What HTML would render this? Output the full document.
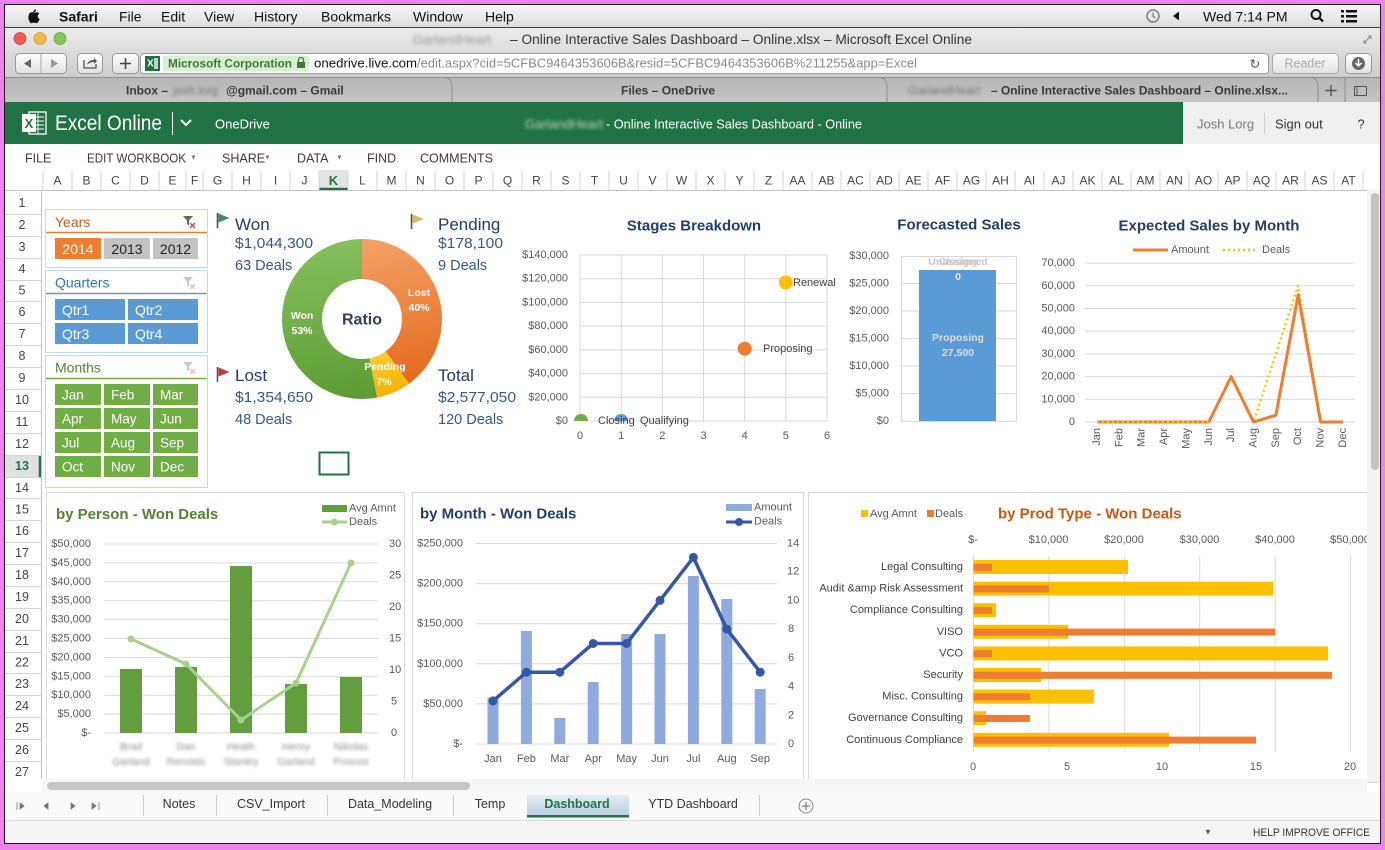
<!DOCTYPE html>
<html><head><meta charset="utf-8">
<style>
html,body{margin:0;padding:0;width:1385px;height:850px;overflow:hidden;background:#f082f0;}
svg{display:block;font-family:"Liberation Sans",Arial,sans-serif;}
</style></head><body>
<svg width="1385" height="850" viewBox="0 0 1385 850" xmlns="http://www.w3.org/2000/svg">
<defs>
<linearGradient id="gMenu" x1="0" y1="0" x2="0" y2="1"><stop offset="0" stop-color="#f8f8f8"/><stop offset="1" stop-color="#dcdcdc"/></linearGradient>
<linearGradient id="gWin" x1="0" y1="0" x2="0" y2="1"><stop offset="0" stop-color="#ebebeb"/><stop offset="1" stop-color="#cdcdcd"/></linearGradient>
<linearGradient id="gBtn" x1="0" y1="0" x2="0" y2="1"><stop offset="0" stop-color="#fdfdfd"/><stop offset="1" stop-color="#e2e2e2"/></linearGradient>
<linearGradient id="gTab" x1="0" y1="0" x2="0" y2="1"><stop offset="0" stop-color="#b6b6b6"/><stop offset="1" stop-color="#c4c4c4"/></linearGradient>
<linearGradient id="gLost" gradientUnits="userSpaceOnUse" x1="390" y1="240" x2="420" y2="385"><stop offset="0" stop-color="#f4a064"/><stop offset="1" stop-color="#e3691c"/></linearGradient>
<linearGradient id="gWon" gradientUnits="userSpaceOnUse" x1="320" y1="245" x2="340" y2="400"><stop offset="0" stop-color="#86bf5e"/><stop offset="1" stop-color="#5c9c33"/></linearGradient>
<linearGradient id="gPend" gradientUnits="userSpaceOnUse" x1="380" y1="350" x2="390" y2="398"><stop offset="0" stop-color="#ffcc33"/><stop offset="1" stop-color="#f2b200"/></linearGradient>
<linearGradient id="gDash" x1="0" y1="0" x2="0" y2="1"><stop offset="0" stop-color="#e6edf5"/><stop offset="1" stop-color="#b9cce2"/></linearGradient>
<clipPath id="stclip"><rect x="572" y="240" width="262" height="181"/></clipPath>
<clipPath id="prodclip"><rect x="808" y="492" width="559" height="290"/></clipPath>
<filter id="bl" x="-20%" y="-50%" width="140%" height="200%"><feGaussianBlur stdDeviation="1.6"/></filter>
</defs>

<!-- frame -->
<rect x="4" y="4" width="1377" height="840" fill="#1c1c1c"/>
<rect x="5" y="5" width="1375" height="838" fill="#ffffff"/>

<!-- mac menu bar -->
<rect x="5" y="5" width="1375" height="22" fill="url(#gMenu)"/>
<line x1="5" y1="27.5" x2="1380" y2="27.5" stroke="#444"/>
<path d="M33.5 11.2c.6-1.2 1.7-1.9 2.6-1.9.1 1-.4 1.9-1 2.5-.6.6-1.5 1-2.3.9.1-.6.3-1.1.7-1.5zM29.5 13.3c1-1 2.2-1.2 3-.9.7.2 1.2.5 1.800.5s1.2-.4 2-.6c1.1-.2 2.3.3 3 1.2-2.4 1.4-2 4.6.4 5.5-.5 1.4-1.3 2.8-2.3 3.7-.8.7-1.6.5-2.4.2-.8-.3-1.5-.3-2.3 0-.9.4-1.7.6-2.4-.2-1.9-2-2.7-6.1-.8-9.4z" fill="#111"/>
<g font-size="14" fill="#111" dominant-baseline="central">
<text x="59" y="16.5" font-weight="bold">Safari</text>
<text x="119" y="16.5">File</text>
<text x="161" y="16.5">Edit</text>
<text x="204" y="16.5">View</text>
<text x="254" y="16.5">History</text>
<text x="321" y="16.5">Bookmarks</text>
<text x="413" y="16.5">Window</text>
<text x="485" y="16.5">Help</text>
<text x="1203" y="16.5">Wed 7:14 PM</text>
</g>
<circle cx="1153" cy="16" r="6" fill="none" stroke="#777" stroke-width="1.4"/>
<path d="M1153 12.5v3.8l2.5 1.5" fill="none" stroke="#777" stroke-width="1.2"/>
<path d="M1173 16l6-4.5v9z" fill="#111"/>
<circle cx="1316" cy="14.5" r="4.5" fill="none" stroke="#111" stroke-width="2"/>
<line x1="1319.5" y1="18" x2="1323" y2="21.5" stroke="#111" stroke-width="2.2"/>
<g fill="#111"><rect x="1341" y="10" width="3" height="2.5"/><rect x="1346" y="10" width="11" height="2.5"/><rect x="1341" y="15" width="3" height="2.5"/><rect x="1346" y="15" width="11" height="2.5"/><rect x="1341" y="20" width="3" height="2.5"/><rect x="1346" y="20" width="11" height="2.5"/></g>

<!-- window title + toolbar -->
<rect x="5" y="28" width="1375" height="49" fill="url(#gWin)"/>
<circle cx="20" cy="38.5" r="6" fill="#ec5b56" stroke="#c9403b" stroke-width=".8"/>
<circle cx="40" cy="38.5" r="6" fill="#f2b846" stroke="#d09a2e" stroke-width=".8"/>
<circle cx="60" cy="38.5" r="6" fill="#86c55a" stroke="#5fa23a" stroke-width=".8"/>
<text x="413" y="39.5" font-size="13" fill="#999" dominant-baseline="central" filter="url(#bl)">GarlandHeart</text>
<text x="510" y="39.5" font-size="13.5" fill="#333" dominant-baseline="central" textLength="462" lengthAdjust="spacingAndGlyphs">– Online Interactive Sales Dashboard – Online.xlsx – Microsoft Excel Online</text>
<path d="M1364 43l7-7M1368 36h3v3M1364 40v3h3" fill="none" stroke="#888" stroke-width="1"/>

<rect x="15.5" y="53.5" width="51" height="20" rx="4" fill="url(#gBtn)" stroke="#999"/>
<line x1="41" y1="54" x2="41" y2="73" stroke="#aaa"/>
<path d="M24 63.5l7-4.5v9z" fill="#666"/><path d="M58 63.5l-7-4.5v9z" fill="#999"/>
<rect x="77.5" y="53.5" width="25" height="20" rx="4" fill="url(#gBtn)" stroke="#999"/>
<path d="M84 60v8h12v-4" fill="none" stroke="#555" stroke-width="1.3"/><path d="M87 65c1-4 4-5 7-5v-2l3 3-3 3v-2c-3 0-5 1-7 3z" fill="#555"/>
<rect x="112.5" y="53.5" width="26" height="20" rx="4" fill="url(#gBtn)" stroke="#999"/>
<path d="M125.5 58v11M120 63.5h11" stroke="#444" stroke-width="1.6"/>
<rect x="140.5" y="53.5" width="1128" height="20" rx="3" fill="#fff" stroke="#9c9c9c"/>
<rect x="145" y="56" width="15" height="15" fill="#1e7145"/><text x="147" y="64" font-size="10" font-weight="bold" fill="#fff" dominant-baseline="central">X</text><rect x="154" y="58" width="4" height="11" fill="#fff" opacity=".7"/>
<rect x="163" y="55.5" width="146" height="16" rx="2" fill="#d9efd3"/>
<text x="168" y="63.5" font-size="12" font-weight="bold" fill="#3d7a37" dominant-baseline="central" textLength="124" lengthAdjust="spacingAndGlyphs">Microsoft Corporation</text>
<rect x="297" y="62" width="8" height="6" fill="#3d7a37"/><path d="M298.5 62v-2a2.5 2.5 0 0 1 5 0v2" fill="none" stroke="#3d7a37" stroke-width="1.3"/>
<text x="314" y="63.5" font-size="12.5" fill="#111" dominant-baseline="central" textLength="103" lengthAdjust="spacingAndGlyphs">onedrive.live.com</text>
<text x="417" y="63.5" font-size="12.5" fill="#8a8a8a" dominant-baseline="central" textLength="500" lengthAdjust="spacingAndGlyphs">/edit.aspx?cid=5CFBC9464353606B&amp;resid=5CFBC9464353606B%211255&amp;app=Excel</text>
<text x="1255" y="64" font-size="13" fill="#555" text-anchor="middle" dominant-baseline="central">↻</text>
<rect x="1272.5" y="53.5" width="66" height="20" rx="4" fill="url(#gBtn)" stroke="#aaa"/>
<text x="1305" y="63.5" font-size="12.5" fill="#aaa" text-anchor="middle" dominant-baseline="central">Reader</text>
<rect x="1345.5" y="53.5" width="26" height="20" rx="4" fill="url(#gBtn)" stroke="#999"/>
<circle cx="1358.5" cy="63.5" r="6.5" fill="#666"/><path d="M1358.5 59v6M1355.5 63l3 3 3-3" fill="none" stroke="#fff" stroke-width="1.5"/>

<!-- tab bar -->
<rect x="5" y="77" width="1375" height="25" fill="url(#gTab)"/>
<line x1="5" y1="77.5" x2="1380" y2="77.5" stroke="#8f8f8f"/>
<path d="M446 78c4 0 5 2 6 8v16M881 78c4 0 5 2 6 8v16M1312 78c4 0 5 2 6 8v16M1345 78v24" fill="none" stroke="#8e8e8e"/>
<g font-size="12" font-weight="bold" fill="#3a3a3a" dominant-baseline="central">
<text x="126" y="90.5">Inbox –</text>
<text x="173" y="90.5" fill="#777" font-weight="normal" filter="url(#bl)">josh.lorg</text>
<text x="226" y="90.5">@gmail.com – Gmail</text>
<text x="621" y="90.5">Files – OneDrive</text>
<text x="908" y="90.5" fill="#777" font-weight="normal" filter="url(#bl)">GarlandHeart</text>
<text x="991" y="90.5" textLength="297" lengthAdjust="spacingAndGlyphs">– Online Interactive Sales Dashboard – Online.xlsx...</text>
</g>
<path d="M1331 85v11M1325.5 90.5h11" stroke="#555" stroke-width="1.4"/>
<rect x="1354.5" y="86.5" width="12" height="9" fill="none" stroke="#555"/><line x1="1357" y1="87" x2="1357" y2="95" stroke="#555"/>

<!-- excel green bar -->
<rect x="5" y="102" width="1375" height="42" fill="#217346"/>
<rect x="1183" y="102" width="197" height="42" fill="#f0f0f0"/>
<rect x="29" y="112" width="17" height="22" fill="none" stroke="#fff" stroke-width="1.3"/>
<path d="M34 117h10M34 121h10M34 125h10M34 129h10M38 113v20" stroke="#fff" stroke-width=".9"/>
<rect x="22" y="114" width="14" height="18" fill="#fff"/>
<text x="29" y="123.5" font-size="13" font-weight="bold" fill="#217346" text-anchor="middle" dominant-baseline="central">X</text>
<text x="55" y="123.5" font-size="21" fill="#fff" dominant-baseline="central" textLength="107" lengthAdjust="spacingAndGlyphs">Excel Online</text>
<line x1="172.5" y1="112" x2="172.5" y2="135" stroke="#fff" stroke-width="1"/>
<path d="M181 120l5 5 5-5" fill="none" stroke="#fff" stroke-width="2"/>
<text x="215" y="124" font-size="13" fill="#fff" dominant-baseline="central">OneDrive</text>
<text x="525" y="124" font-size="13" fill="#b9d6c4" dominant-baseline="central" filter="url(#bl)">GarlandHeart</text>
<text x="606" y="124" font-size="13" fill="#fff" dominant-baseline="central" textLength="256" lengthAdjust="spacingAndGlyphs">- Online Interactive Sales Dashboard - Online</text>
<text x="1197" y="124" font-size="13" fill="#7a7a7a" dominant-baseline="central">Josh Lorg</text>
<line x1="1264.5" y1="113" x2="1264.5" y2="134" stroke="#d0d0d0"/>
<text x="1275" y="124" font-size="13" fill="#333" dominant-baseline="central">Sign out</text>
<text x="1361" y="124" font-size="13" fill="#333" text-anchor="middle" dominant-baseline="central">?</text>

<!-- ribbon -->
<g font-size="12.5" fill="#3a3a3a" dominant-baseline="central">
<text x="25" y="158.5">FILE</text>
<text x="87" y="158.5" textLength="99" lengthAdjust="spacingAndGlyphs">EDIT WORKBOOK</text><text x="190" y="158" font-size="7" fill="#777">▼</text>
<text x="222" y="158.5">SHARE</text><text x="264" y="158" font-size="7" fill="#777">▼</text>
<text x="297" y="158.5">DATA</text><text x="336" y="158" font-size="7" fill="#777">▼</text>
<text x="367" y="158.5">FIND</text>
<text x="420" y="158.5">COMMENTS</text>
</g>

<!-- column headers -->
<rect x="319" y="170" width="29" height="20" fill="#e3e3e3"/>
<line x1="319" y1="189" x2="348" y2="189" stroke="#217346" stroke-width="2.5"/>
<path d="M43 171v19M72 171v19M101 171v19M130 171v19M159 171v19M186 171v19M203 171v19M232 171v19M261 171v19M290 171v19M319 171v19M348 171v19M377 171v19M406 171v19M435 171v19M464 171v19M493 171v19M522 171v19M551 171v19M580 171v19M609 171v19M638 171v19M667 171v19M696 171v19M725 171v19M754 171v19M783 171v19M812 171v19M841 171v19M870 171v19M899 171v19M928 171v19M957 171v19M986 171v19M1015 171v19M1044 171v19M1073 171v19M1102 171v19M1131 171v19M1160 171v19M1189 171v19M1218 171v19M1247 171v19M1276 171v19M1305 171v19M1334 171v19M1363 171v19" stroke="#d4d4d4" stroke-width="1"/>
<line x1="5" y1="190.5" x2="1367" y2="190.5" stroke="#c2c2c2"/>
<g font-size="12" fill="#444" text-anchor="middle" dominant-baseline="central">
<text x="57.5" y="180.5">A</text><text x="86.5" y="180.5">B</text><text x="115.5" y="180.5">C</text><text x="144.5" y="180.5">D</text><text x="172.5" y="180.5">E</text><text x="194.5" y="180.5">F</text><text x="217.5" y="180.5">G</text><text x="246.5" y="180.5">H</text><text x="275.5" y="180.5">I</text><text x="304.5" y="180.5">J</text><text x="333.5" y="180.5" font-weight="bold" fill="#217346" font-size="13">K</text><text x="362.5" y="180.5">L</text><text x="391.5" y="180.5">M</text><text x="420.5" y="180.5">N</text><text x="449.5" y="180.5">O</text><text x="478.5" y="180.5">P</text><text x="507.5" y="180.5">Q</text><text x="536.5" y="180.5">R</text><text x="565.5" y="180.5">S</text><text x="594.5" y="180.5">T</text><text x="623.5" y="180.5">U</text><text x="652.5" y="180.5">V</text><text x="681.5" y="180.5">W</text><text x="710.5" y="180.5">X</text><text x="739.5" y="180.5">Y</text><text x="768.5" y="180.5">Z</text><text x="797.5" y="180.5">AA</text><text x="826.5" y="180.5">AB</text><text x="855.5" y="180.5">AC</text><text x="884.5" y="180.5">AD</text><text x="913.5" y="180.5">AE</text><text x="942.5" y="180.5">AF</text><text x="971.5" y="180.5">AG</text><text x="1000.5" y="180.5">AH</text><text x="1029.5" y="180.5">AI</text><text x="1058.5" y="180.5">AJ</text><text x="1087.5" y="180.5">AK</text><text x="1116.5" y="180.5">AL</text><text x="1145.5" y="180.5">AM</text><text x="1174.5" y="180.5">AN</text><text x="1203.5" y="180.5">AO</text><text x="1232.5" y="180.5">AP</text><text x="1261.5" y="180.5">AQ</text><text x="1290.5" y="180.5">AR</text><text x="1319.5" y="180.5">AS</text><text x="1348.5" y="180.5">AT</text>
</g>

<!-- row headers -->
<rect x="5" y="455" width="36" height="22" fill="#e1e1e1"/>
<line x1="40" y1="455" x2="40" y2="477" stroke="#217346" stroke-width="2.5"/>
<path d="M5 214.5h36M5 236.5h36M5 258.5h36M5 280.5h36M5 301.5h36M5 323.5h36M5 345.5h36M5 367.5h36M5 389.5h36M5 411.5h36M5 433.5h36M5 455.5h36M5 477.5h36M5 498.5h36M5 520.5h36M5 542.5h36M5 564.5h36M5 586.5h36M5 608.5h36M5 630.5h36M5 652.5h36M5 673.5h36M5 695.5h36M5 717.5h36M5 739.5h36M5 761.5h36" stroke="#d4d4d4"/>
<line x1="41.5" y1="190" x2="41.5" y2="780" stroke="#c2c2c2"/>
<g font-size="12.5" fill="#444" text-anchor="middle" dominant-baseline="central">
<text x="22" y="203">1</text><text x="22" y="225">2</text><text x="22" y="247">3</text><text x="22" y="269">4</text><text x="22" y="290.5">5</text><text x="22" y="312">6</text><text x="22" y="334">7</text><text x="22" y="356">8</text><text x="22" y="378">9</text><text x="22" y="400">10</text><text x="22" y="422">11</text><text x="22" y="444">12</text><text x="22" y="466" font-weight="bold" fill="#217346">13</text><text x="22" y="488">14</text><text x="22" y="509.5">15</text><text x="22" y="531">16</text><text x="22" y="553">17</text><text x="22" y="575">18</text><text x="22" y="597">19</text><text x="22" y="619">20</text><text x="22" y="641">21</text><text x="22" y="662.5">22</text><text x="22" y="684">23</text><text x="22" y="706">24</text><text x="22" y="728">25</text><text x="22" y="750">26</text><text x="22" y="772">27</text>
</g>

<!-- vertical scrollbar -->
<rect x="1367" y="190" width="13" height="590" fill="#f3f3f3"/>
<rect x="1371" y="193" width="8" height="277" rx="4" fill="#c3c3c3"/>

<!-- ===== Slicers ===== -->
<rect x="45.5" y="209.5" width="162" height="58" fill="#fff" stroke="#f8cbad"/>
<text x="55" y="222" font-size="14" fill="#c55a11" dominant-baseline="central">Years</text>
<line x1="46" y1="232.5" x2="207" y2="232.5" stroke="#ed7d31" stroke-width="1.5"/>
<path d="M183 216h10l-4 4.5v5l-2-1.5v-3.5z" fill="#666"/><path d="M190 223l5 5M195 223l-5 5" stroke="#e0403a" stroke-width="1.3"/>
<rect x="55" y="238" width="46" height="21" fill="#ed7d31"/><text x="78" y="249" font-size="14" fill="#fff" text-anchor="middle" dominant-baseline="central">2014</text>
<rect x="104" y="238" width="46" height="21" fill="#c4c4c4"/><text x="127" y="249" font-size="14" fill="#222" text-anchor="middle" dominant-baseline="central">2013</text>
<rect x="153" y="238" width="45" height="21" fill="#c4c4c4"/><text x="175.5" y="249" font-size="14" fill="#222" text-anchor="middle" dominant-baseline="central">2012</text>

<rect x="45.5" y="270.5" width="162" height="82" fill="#fff" stroke="#bdd7ee"/>
<text x="55" y="282.5" font-size="14" fill="#2e75b6" dominant-baseline="central">Quarters</text>
<line x1="46" y1="293.5" x2="207" y2="293.5" stroke="#5b9bd5" stroke-width="1.5"/>
<path d="M183 277h10l-4 4.5v5l-2-1.5v-3.5z" fill="#c8c8c8"/><path d="M190 284l5 5M195 284l-5 5" stroke="#f0b0ae" stroke-width="1.2"/>
<g fill="#5b9bd5"><rect x="55" y="299" width="70" height="21"/><rect x="128" y="299" width="70" height="21"/><rect x="55" y="323" width="70" height="21"/><rect x="128" y="323" width="70" height="21"/></g>
<g font-size="14" fill="#fff" dominant-baseline="central"><text x="62" y="310">Qtr1</text><text x="135" y="310">Qtr2</text><text x="62" y="334">Qtr3</text><text x="135" y="334">Qtr4</text></g>

<rect x="45.5" y="355.5" width="162" height="132" fill="#fff" stroke="#c5e0b4"/>
<text x="55" y="367.5" font-size="14" fill="#548235" dominant-baseline="central">Months</text>
<line x1="46" y1="378.5" x2="207" y2="378.5" stroke="#70ad47" stroke-width="1.5"/>
<path d="M183 362h10l-4 4.5v5l-2-1.5v-3.5z" fill="#c8c8c8"/><path d="M190 369l5 5M195 369l-5 5" stroke="#f0b0ae" stroke-width="1.2"/>
<g fill="#70ad47">
<rect x="55" y="384" width="46" height="21"/><rect x="104" y="384" width="46" height="21"/><rect x="153" y="384" width="45" height="21"/>
<rect x="55" y="408" width="46" height="21"/><rect x="104" y="408" width="46" height="21"/><rect x="153" y="408" width="45" height="21"/>
<rect x="55" y="432" width="46" height="21"/><rect x="104" y="432" width="46" height="21"/><rect x="153" y="432" width="45" height="21"/>
<rect x="55" y="456" width="46" height="21"/><rect x="104" y="456" width="46" height="21"/><rect x="153" y="456" width="45" height="21"/>
</g>
<g font-size="13.5" fill="#fff" dominant-baseline="central">
<text x="62" y="395">Jan</text><text x="111" y="395">Feb</text><text x="160" y="395">Mar</text>
<text x="62" y="419">Apr</text><text x="111" y="419">May</text><text x="160" y="419">Jun</text>
<text x="62" y="443">Jul</text><text x="111" y="443">Aug</text><text x="160" y="443">Sep</text>
<text x="62" y="467">Oct</text><text x="111" y="467">Nov</text><text x="160" y="467">Dec</text>
</g>

<!-- ===== KPIs + donut ===== -->
<line x1="217.5" y1="213" x2="217.5" y2="228" stroke="#555" stroke-width="1.6"/><path d="M218.5 213.5l11 4.5-11 4.5z" fill="#3e8c6c"/>
<line x1="411.5" y1="214" x2="411.5" y2="229" stroke="#555" stroke-width="1.6"/><path d="M412.5 214.5l11 4.5-11 4.5z" fill="#e2b25c"/>
<line x1="217.5" y1="367" x2="217.5" y2="382" stroke="#555" stroke-width="1.6"/><path d="M218.5 367.5l11 4.5-11 4.5z" fill="#c8362c"/>
<g fill="#1f3d6b" font-size="17" dominant-baseline="central">
<text x="235" y="224.5">Won</text><text x="438" y="224.5">Pending</text>
<text x="235" y="375.5">Lost</text><text x="438" y="375.5">Total</text>
</g>
<g fill="#33588a" font-size="14.5" dominant-baseline="central">
<text x="235" y="244" textLength="78" lengthAdjust="spacingAndGlyphs">$1,044,300</text><text x="235" y="266">63 Deals</text>
<text x="438" y="244" textLength="65" lengthAdjust="spacingAndGlyphs">$178,100</text><text x="438" y="266">9 Deals</text>
<text x="235" y="398" textLength="78" lengthAdjust="spacingAndGlyphs">$1,354,650</text><text x="235" y="420">48 Deals</text>
<text x="438" y="398" textLength="78" lengthAdjust="spacingAndGlyphs">$2,577,050</text><text x="438" y="420">120 Deals</text>
</g>
<path d="M362,239 A80,80 0 0 1 409.02,383.72 L385.51,351.36 A40,40 0 0 0 362,279 Z" fill="url(#gLost)"/>
<path d="M409.02,383.72 A80,80 0 0 1 376.99,397.58 L369.50,358.29 A40,40 0 0 0 385.51,351.36 Z" fill="url(#gPend)"/>
<path d="M376.99,397.58 A80,80 0 1 1 362,239 L362,279 A40,40 0 1 0 369.50,358.29 Z" fill="url(#gWon)"/>
<g font-size="10.5" font-weight="bold" fill="#fff" text-anchor="middle" dominant-baseline="central">
<text x="419" y="293">Lost</text><text x="419" y="308">40%</text>
<text x="302" y="316">Won</text><text x="302" y="331">53%</text>
<text x="385" y="367">Pending</text><text x="384" y="382">7%</text>
</g>
<text x="362" y="320" font-size="16" font-weight="bold" fill="#333f50" text-anchor="middle" dominant-baseline="central">Ratio</text>
<rect x="319.5" y="452.5" width="29" height="22" fill="none" stroke="#217346" stroke-width="2"/>

<!-- ===== Stages Breakdown ===== -->
<text x="694" y="226" font-size="15" font-weight="bold" fill="#1f3f6a" text-anchor="middle" dominant-baseline="central">Stages Breakdown</text>
<g stroke="#d9d9d9" stroke-width="1">
<path d="M580 255h247M580 278.7h247M580 302.4h247M580 326.1h247M580 349.9h247M580 373.6h247M580 397.3h247M580 421h247"/>
<path d="M580 255v166M621.2 255v166M662.3 255v166M703.5 255v166M744.7 255v166M785.8 255v166M827 255v166"/>
</g>
<g font-size="11" fill="#595959" text-anchor="end" dominant-baseline="central">
<text x="568" y="255">$140,000</text><text x="568" y="278.7">$120,000</text><text x="568" y="302.4">$100,000</text><text x="568" y="326.1">$80,000</text><text x="568" y="349.9">$60,000</text><text x="568" y="373.6">$40,000</text><text x="568" y="397.3">$20,000</text><text x="568" y="421">$0</text>
</g>
<g font-size="11" fill="#595959" text-anchor="middle" dominant-baseline="central">
<text x="580" y="436">0</text><text x="621.2" y="436">1</text><text x="662.3" y="436">2</text><text x="703.5" y="436">3</text><text x="744.7" y="436">4</text><text x="785.8" y="436">5</text><text x="827" y="436">6</text>
</g>
<g clip-path="url(#stclip)">
<circle cx="581" cy="421" r="7" fill="#70ad47"/>
<circle cx="621.2" cy="421" r="7" fill="#5b9bd5"/>
</g>
<circle cx="744.7" cy="348.7" r="7" fill="#ed7d31"/>
<circle cx="785.8" cy="282.5" r="7" fill="#ffc000"/>
<g font-size="11" fill="#404040" dominant-baseline="central">
<text x="598" y="421">Closing</text><text x="640" y="421">Qualifying</text>
<text x="763" y="349">Proposing</text><text x="793" y="283">Renewal</text>
</g>

<!-- ===== Forecasted Sales ===== -->
<text x="959" y="225" font-size="15" font-weight="bold" fill="#1f3f6a" text-anchor="middle" dominant-baseline="central">Forecasted Sales</text>
<rect x="901.5" y="256.5" width="115" height="165" fill="none" stroke="#d9d9d9"/>
<path d="M901 283.5h115M901 311h115M901 338.5h115M901 366h115M901 393.5h115" stroke="#d9d9d9"/>
<g font-size="11" fill="#595959" text-anchor="end" dominant-baseline="central">
<text x="889" y="256">$30,000</text><text x="889" y="283.5">$25,000</text><text x="889" y="311">$20,000</text><text x="889" y="338.5">$15,000</text><text x="889" y="366">$10,000</text><text x="889" y="393.5">$5,000</text><text x="889" y="421">$0</text>
</g>
<rect x="919" y="270" width="77" height="151" fill="#5b9bd5"/>
<g font-size="10.5" font-weight="bold" text-anchor="middle" dominant-baseline="central">
<text x="958" y="262" fill="#c6c6c6">Unassigned</text><text x="958" y="262" fill="#c6c6c6" opacity=".8">Closing</text>
<text x="958" y="277" fill="#eaeaea">0</text>
<text x="958" y="338" fill="#dcdcdc">Proposing</text><text x="958" y="353" fill="#dcdcdc">27,500</text>
</g>

<!-- ===== Expected Sales by Month ===== -->
<text x="1209" y="226" font-size="15" font-weight="bold" fill="#1f3f6a" text-anchor="middle" dominant-baseline="central">Expected Sales by Month</text>
<line x1="1133" y1="250" x2="1168" y2="250" stroke="#ed7d31" stroke-width="3"/>
<text x="1171" y="250" font-size="11" fill="#595959" dominant-baseline="central">Amount</text>
<line x1="1223" y1="250" x2="1258" y2="250" stroke="#ffc000" stroke-width="2.5" stroke-dasharray="2,3"/>
<text x="1262" y="250" font-size="11" fill="#595959" dominant-baseline="central">Deals</text>
<path d="M1085 263.1h270M1085 285.8h270M1085 308.5h270M1085 331.2h270M1085 353.9h270M1085 376.6h270M1085 399.3h270M1085 422h270" stroke="#d9d9d9"/>
<g font-size="11" fill="#595959" text-anchor="end" dominant-baseline="central">
<text x="1075" y="263">70,000</text><text x="1075" y="285.8">60,000</text><text x="1075" y="308.5">50,000</text><text x="1075" y="331.2">40,000</text><text x="1075" y="353.9">30,000</text><text x="1075" y="376.6">20,000</text><text x="1075" y="399.3">10,000</text><text x="1075" y="422">0</text>
</g>
<polyline points="1097,422 1119.4,422 1141.7,422 1164.1,422 1186.4,422 1208.8,422 1231.2,376.6 1253.5,422 1275.9,353.9 1298.2,285.7 1320.6,422 1343,422" fill="none" stroke="#ffc000" stroke-width="2.5" stroke-dasharray="2,3"/>
<polyline points="1097,422 1119.4,422 1141.7,422 1164.1,422 1186.4,422 1208.8,422 1231.2,376.6 1253.5,422 1275.9,415.2 1298.2,294.8 1320.6,422 1343,422" fill="none" stroke="#ed7d31" stroke-width="3" stroke-linejoin="round"/>
<polyline points="1097,422 1208.8,422" fill="none" stroke="#ffc000" stroke-width="2" stroke-dasharray="2,3"/>
<g font-size="11" fill="#595959" text-anchor="end" dominant-baseline="central">
<text transform="translate(1097,428) rotate(-90)">Jan</text><text transform="translate(1119.4,428) rotate(-90)">Feb</text><text transform="translate(1141.7,428) rotate(-90)">Mar</text><text transform="translate(1164.1,428) rotate(-90)">Apr</text><text transform="translate(1186.4,428) rotate(-90)">May</text><text transform="translate(1208.8,428) rotate(-90)">Jun</text><text transform="translate(1231.2,428) rotate(-90)">Jul</text><text transform="translate(1253.5,428) rotate(-90)">Aug</text><text transform="translate(1275.9,428) rotate(-90)">Sep</text><text transform="translate(1298.2,428) rotate(-90)">Oct</text><text transform="translate(1320.6,428) rotate(-90)">Nov</text><text transform="translate(1343,428) rotate(-90)">Dec</text>
</g>

<!-- ===== by Person ===== -->
<rect x="46.5" y="492.5" width="358" height="290" fill="#fff" stroke="#d9d9d9"/>
<text x="56" y="514.5" font-size="15" font-weight="bold" fill="#548235" dominant-baseline="central">by Person - Won Deals</text>
<rect x="322" y="505" width="25" height="7" fill="#629d3e"/>
<text x="349" y="508.5" font-size="11" fill="#595959" dominant-baseline="central">Avg Amnt</text>
<line x1="322" y1="522" x2="347" y2="522" stroke="#a9d18e" stroke-width="3"/><circle cx="334.5" cy="522" r="3.5" fill="#a9d18e"/>
<text x="349" y="522" font-size="11" fill="#595959" dominant-baseline="central">Deals</text>
<path d="M104 544h274M104 562.9h274M104 581.8h274M104 600.7h274M104 619.6h274M104 638.5h274M104 657.4h274M104 676.3h274M104 695.2h274M104 714.1h274M104 733h274" stroke="#d9d9d9"/>
<g font-size="11" fill="#595959" text-anchor="end" dominant-baseline="central">
<text x="91" y="544">$50,000</text><text x="91" y="562.9">$45,000</text><text x="91" y="581.8">$40,000</text><text x="91" y="600.7">$35,000</text><text x="91" y="619.6">$30,000</text><text x="91" y="638.5">$25,000</text><text x="91" y="657.4">$20,000</text><text x="91" y="676.3">$15,000</text><text x="91" y="695.2">$10,000</text><text x="91" y="714.1">$5,000</text><text x="91" y="733">$-</text>
</g>
<g font-size="11" fill="#595959" dominant-baseline="central">
<text x="389" y="544">30</text><text x="389" y="575.5">25</text><text x="389" y="607">20</text><text x="389" y="638.5">15</text><text x="389" y="670">10</text><text x="391" y="701.5">5</text><text x="391" y="733">0</text>
</g>
<g fill="#629d3e">
<rect x="120" y="669" width="22" height="64"/><rect x="175" y="667" width="22" height="66"/><rect x="230" y="566" width="22" height="167"/><rect x="285" y="684" width="22" height="49"/><rect x="340" y="677" width="22" height="56"/>
</g>
<polyline points="131,639 186,664 241,720 296,683 351,563" fill="none" stroke="#a9d18e" stroke-width="3" stroke-linejoin="round"/>
<g fill="#a9d18e"><circle cx="131" cy="639" r="3.5"/><circle cx="186" cy="664" r="3.5"/><circle cx="241" cy="720" r="3.5"/><circle cx="296" cy="683" r="3.5"/><circle cx="351" cy="563" r="3.5"/></g>
<g font-size="10.5" fill="#8a8a8a" text-anchor="middle" dominant-baseline="central" filter="url(#bl)">
<text x="131" y="747">Brad</text><text x="131" y="762">Garland</text>
<text x="186" y="747">Dan</text><text x="186" y="762">Renolds</text>
<text x="241" y="747">Heath</text><text x="241" y="762">Stanley</text>
<text x="296" y="747">Henry</text><text x="296" y="762">Garland</text>
<text x="351" y="747">Nikolas</text><text x="351" y="762">Provost</text>
</g>

<!-- ===== by Month ===== -->
<rect x="412.5" y="492.5" width="391" height="290" fill="#fff" stroke="#d9d9d9"/>
<text x="420" y="514" font-size="15" font-weight="bold" fill="#1f3f6a" dominant-baseline="central">by Month - Won Deals</text>
<rect x="726" y="504" width="26" height="7" fill="#8faadc"/>
<text x="754" y="507.5" font-size="11" fill="#595959" dominant-baseline="central">Amount</text>
<line x1="726" y1="522" x2="752" y2="522" stroke="#3457a6" stroke-width="3"/><circle cx="739" cy="522" r="4" fill="#3457a6"/>
<text x="754" y="521.5" font-size="11" fill="#595959" dominant-baseline="central">Deals</text>
<path d="M476 543.5h301M476 583.6h301M476 623.7h301M476 663.8h301M476 703.9h301M476 744h301" stroke="#d9d9d9"/>
<g font-size="11" fill="#595959" text-anchor="end" dominant-baseline="central">
<text x="463" y="543.5">$250,000</text><text x="463" y="583.6">$200,000</text><text x="463" y="623.7">$150,000</text><text x="463" y="663.8">$100,000</text><text x="463" y="703.9">$50,000</text><text x="463" y="744">$-</text>
</g>
<g font-size="11" fill="#595959" dominant-baseline="central">
<text x="787" y="543.5">14</text><text x="787" y="571.7">12</text><text x="787" y="600.4">10</text><text x="788" y="629.1">8</text><text x="788" y="657.9">6</text><text x="788" y="686.6">4</text><text x="788" y="715.3">2</text><text x="788" y="744">0</text>
</g>
<g fill="#8faadc">
<rect x="487.5" y="698" width="11" height="46"/><rect x="520.9" y="631" width="11" height="113"/><rect x="554.3" y="718" width="11" height="26"/><rect x="587.7" y="682" width="11" height="62"/><rect x="621.1" y="634" width="11" height="110"/><rect x="654.5" y="634" width="11" height="110"/><rect x="687.9" y="576" width="11" height="168"/><rect x="721.3" y="599" width="11" height="145"/><rect x="754.7" y="689" width="11" height="55"/>
</g>
<polyline points="493,700.9 526.4,672.2 559.8,672.2 593.2,643.5 626.6,643.5 660,600.4 693.4,557.4 726.8,629.1 760.2,672.2" fill="none" stroke="#3457a6" stroke-width="3.5" stroke-linejoin="round"/>
<g fill="#3457a6"><circle cx="493" cy="700.9" r="4.5"/><circle cx="526.4" cy="672.2" r="4.5"/><circle cx="559.8" cy="672.2" r="4.5"/><circle cx="593.2" cy="643.5" r="4.5"/><circle cx="626.6" cy="643.5" r="4.5"/><circle cx="660" cy="600.4" r="4.5"/><circle cx="693.4" cy="557.4" r="4.5"/><circle cx="726.8" cy="629.1" r="4.5"/><circle cx="760.2" cy="672.2" r="4.5"/></g>
<g font-size="11" fill="#595959" text-anchor="middle" dominant-baseline="central">
<text x="493" y="759">Jan</text><text x="526.4" y="759">Feb</text><text x="559.8" y="759">Mar</text><text x="593.2" y="759">Apr</text><text x="626.6" y="759">May</text><text x="660" y="759">Jun</text><text x="693.4" y="759">Jul</text><text x="726.8" y="759">Aug</text><text x="760.2" y="759">Sep</text>
</g>

<!-- ===== by Prod Type ===== -->
<rect x="808.5" y="492.5" width="570" height="290" fill="#fff" stroke="#d9d9d9"/>
<g clip-path="url(#prodclip)">
<rect x="861" y="510" width="7" height="7" fill="#ffc000"/>
<text x="870" y="514" font-size="11" fill="#595959" dominant-baseline="central">Avg Amnt</text>
<rect x="927" y="510" width="7" height="7" fill="#ed7d31"/>
<text x="935" y="514" font-size="11" fill="#595959" dominant-baseline="central">Deals</text>
<text x="998" y="514" font-size="15" font-weight="bold" fill="#c55a11" dominant-baseline="central">by Prod Type - Won Deals</text>
<path d="M973.5 556v196M1048.9 556v196M1124.3 556v196M1199.7 556v196M1275.1 556v196M1350.5 556v196" stroke="#d9d9d9"/>
<g font-size="11" fill="#595959" text-anchor="middle" dominant-baseline="central">
<text x="973" y="540">$-</text><text x="1048.5" y="540">$10,000</text><text x="1124" y="540">$20,000</text><text x="1199.5" y="540">$30,000</text><text x="1275" y="540">$40,000</text><text x="1350" y="540">$50,000</text>
<text x="973" y="767">0</text><text x="1067" y="767">5</text><text x="1162" y="767">10</text><text x="1256" y="767">15</text><text x="1350" y="767">20</text>
</g>
<g font-size="11" fill="#404040" text-anchor="end" dominant-baseline="central">
<text x="963" y="567">Legal Consulting</text><text x="963" y="588.6">Audit &amp;amp Risk Assessment</text><text x="963" y="610.2">Compliance Consulting</text><text x="963" y="631.8">VISO</text><text x="963" y="653.4">VCO</text><text x="963" y="675">Security</text><text x="963" y="696.6">Misc. Consulting</text><text x="963" y="718.2">Governance Consulting</text><text x="963" y="739.8">Continuous Compliance</text>
</g>
<g fill="#ffc000">
<rect x="973.5" y="560" width="154.5" height="14"/><rect x="973.5" y="581.6" width="299.5" height="14"/><rect x="973.5" y="603.2" width="22.5" height="14"/><rect x="973.5" y="624.8" width="94.5" height="14"/><rect x="973.5" y="646.4" width="354.5" height="14"/><rect x="973.5" y="668" width="67.5" height="14"/><rect x="973.5" y="689.6" width="120.5" height="14"/><rect x="973.5" y="711.2" width="12.5" height="14"/><rect x="973.5" y="732.8" width="195.5" height="14"/>
</g>
<g fill="#ed7d31">
<rect x="973.5" y="563.8" width="18.5" height="7"/><rect x="973.5" y="585.4" width="75.5" height="7"/><rect x="973.5" y="607" width="18.5" height="7"/><rect x="973.5" y="628.6" width="301.5" height="7"/><rect x="973.5" y="650.2" width="18.5" height="7"/><rect x="973.5" y="671.8" width="358.5" height="7"/><rect x="973.5" y="693.4" width="56.5" height="7"/><rect x="973.5" y="715" width="56.5" height="7"/><rect x="973.5" y="736.6" width="282.5" height="7"/>
</g>
</g>
<rect x="1367" y="492" width="13" height="290" fill="#f3f3f3"/>

<!-- horizontal scroll -->
<rect x="42" y="779" width="1325" height="13" fill="#f6f6f6"/>
<rect x="5" y="779" width="37" height="13" fill="#fff"/>
<rect x="47" y="782" width="423" height="8" rx="4" fill="#c6c6c6"/>

<!-- sheet tabs -->
<rect x="5" y="792" width="1375" height="28" fill="#fafafa"/>
<path d="M17 802v8M24 806l-4-3v6zM44 806l4-3v6zM75 806l-4-3v6zM99 802v8M96 806l-4-3v6z" fill="#777" stroke="#777" stroke-width=".8"/>
<path d="M143.5 795v21M216.5 795v21M327.5 795v21M453.5 795v21M759.5 795v21" stroke="#cfcfcf"/>
<rect x="527" y="795" width="102" height="21" fill="url(#gDash)"/>
<rect x="527" y="815" width="102" height="2.5" fill="#217346"/>
<g font-size="12.5" fill="#333" text-anchor="middle" dominant-baseline="central">
<text x="179" y="804">Notes</text><text x="271" y="804">CSV_Import</text><text x="390" y="804">Data_Modeling</text><text x="490" y="804">Temp</text>
<text x="577" y="804" font-weight="bold" fill="#217346">Dashboard</text>
<text x="693" y="804">YTD Dashboard</text>
</g>
<circle cx="806" cy="806" r="7" fill="none" stroke="#888"/><path d="M806 802v8M802 806h8" stroke="#666"/>

<!-- status bar -->
<rect x="5" y="820" width="1375" height="23" fill="#f5f5f5"/>
<line x1="5" y1="820.5" x2="1380" y2="820.5" stroke="#dadada"/>
<text x="1208" y="832" font-size="8" fill="#555" text-anchor="middle" dominant-baseline="central">▼</text>
<text x="1253" y="833" font-size="11" fill="#333" dominant-baseline="central" textLength="117" lengthAdjust="spacingAndGlyphs">HELP IMPROVE OFFICE</text>
</svg>
</body></html>
